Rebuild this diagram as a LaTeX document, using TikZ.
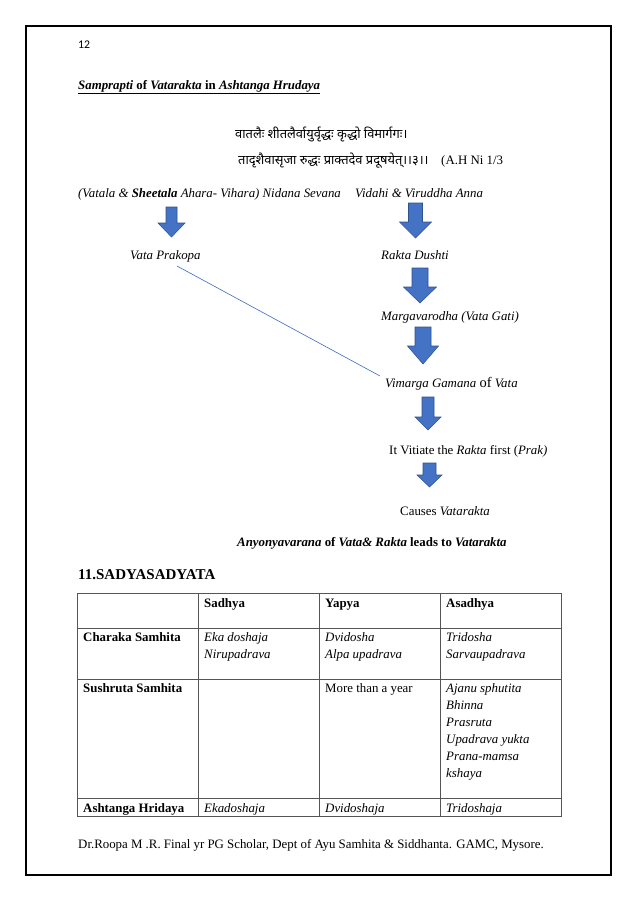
\documentclass[tikz,border=0pt]{standalone}
\usepackage{fontspec}
\setmainfont{Liberation Serif}
\newfontfamily\calib{Carlito}
\newfontfamily\deva[Script=Devanagari]{Noto Sans}
\definecolor{wblue}{HTML}{4472C4}
\definecolor{wblued}{HTML}{2F528F}
\definecolor{tgray}{HTML}{555555}
\newcommand{\blockarrow}[6]{%
  \filldraw[barrow] (#1-#5,#2) -- (#1+#5,#2) -- (#1+#5,#3) -- (#1+#6,#3) -- (#1,#4)
    -- (#1-#6,#3) -- (#1-#5,#3) -- cycle;}
\begin{document}
\begin{tikzpicture}[x=0.933pt,y=-0.933pt,
  txt/.style={anchor=base west,inner sep=0pt,font=\fontsize{12}{14}\selectfont},
  barrow/.style={fill=wblue,draw=wblued,line width=0.5pt},
  link/.style={draw=wblue,line width=0.6pt},
  tline/.style={draw=tgray,line width=0.9pt}]
\useasboundingbox (0,0) rectangle (638,902);
\fill[white] (0,0) rectangle (638,902);
% page border
\draw[line width=1.3pt] (26,26) rectangle (611,875);
\node[txt,font=\calib\fontsize{11}{13}\selectfont] (pg) at (78,49) {12};
\node[txt] (title) at (78,89) {\textbf{\underline{\textit{Samprapti} of \textit{Vatarakta} in \textit{Ashtanga Hrudaya}}}};
% shloka
\node[txt,font=\deva\fontsize{12}{15}\selectfont] (sh1) at (235,138) {वातलैः शीतलैर्वायुर्वृद्धः कृद्धो विमार्गगः।};
\node[txt,font=\deva\fontsize{12}{15}\selectfont] (sh2) at (238,164) {तादृशैवासृजा रुद्धः प्राक्तदेव प्रदूषयेत्।।३।।};
\node[txt] (ref) at (441,164) {(A.H Ni 1/3};
% flow
\node[txt] (n1) at (78,197) {\textit{(Vatala \& \textbf{Sheetala} Ahara- Vihara) Nidana Sevana}};
\node[txt] (n2) at (355,197) {\textit{Vidahi \& Viruddha Anna}};
\blockarrow{171.5}{207}{223}{237}{5.5}{13.5}
\blockarrow{415.5}{203}{222}{238}{7}{16}
\node[txt] (vp) at (130,259) {\textit{Vata Prakopa}};
\node[txt] (rd) at (381,259) {\textit{Rakta Dushti}};
\blockarrow{420}{268}{287}{303}{8}{16.5}
\node[txt] (mv) at (381,320) {\textit{Margavarodha (Vata Gati)}};
\blockarrow{423}{327}{346}{364}{8}{15.5}
\node[txt] (vg) at (385,387) {\textit{Vimarga Gamana} {\fontsize{13.5}{14}\selectfont of} \textit{Vata}};
\coordinate (l1) at (177,266);
\coordinate (l2) at (380,376);
\draw[link] (l1) -- (l2);
\blockarrow{428}{397}{417}{430}{6}{13}
\node[txt] (vr) at (389,454) {It Vitiate the \textit{Rakta} first (\textit{Prak)}};
\blockarrow{429.5}{463}{475}{487}{6.5}{12.5}
\node[txt] (cv) at (400,515) {Causes \textit{Vatarakta}};
\node[txt] (an) at (237,546) {\textbf{\textit{Anyonyavarana} of \textit{Vata\& Rakta} leads to \textit{Vatarakta}}};
\node[txt,font=\bfseries\fontsize{14}{16}\selectfont] (sec) at (78,579) {11.SADYASADYATA};
% table
\draw[tline] (77,593) rectangle (561,816);
\foreach \yy in {628,679,798} \draw[tline] (77,\yy) -- (561,\yy);
\foreach \xx in {198,319,440} \draw[tline] (\xx,593) -- (\xx,816);
\node[txt] (h1) at (204,607) {\textbf{Sadhya}};
\node[txt] (h2) at (325,607) {\textbf{Yapya}};
\node[txt] (h3) at (446,607) {\textbf{Asadhya}};
\node[txt] (r1) at (83,641) {\textbf{Charaka Samhita}};
\node[txt] (c11) at (204,641) {\textit{Eka doshaja}};
\node[txt] (c12) at (204,658) {\textit{Nirupadrava}};
\node[txt] (c21) at (325,641) {\textit{Dvidosha}};
\node[txt] (c22) at (325,658) {\textit{Alpa upadrava}};
\node[txt] (c31) at (446,641) {\textit{Tridosha}};
\node[txt] (c32) at (446,658) {\textit{Sarvaupadrava}};
\node[txt] (r2) at (83,692) {\textbf{Sushruta Samhita}};
\node[txt] (s2) at (325,692) {More than a year};
\node[txt] (s31) at (446,692) {\textit{Ajanu sphutita}};
\node[txt] (s32) at (446,709) {\textit{Bhinna}};
\node[txt] (s33) at (446,726) {\textit{Prasruta}};
\node[txt] (s34) at (446,743) {\textit{Upadrava yukta}};
\node[txt] (s35) at (446,760) {\textit{Prana-mamsa}};
\node[txt] (s36) at (446,777) {\textit{kshaya}};
\node[txt] (r3) at (83,812) {\textbf{Ashtanga Hridaya}};
\node[txt] (a1) at (204,812) {\textit{Ekadoshaja}};
\node[txt] (a2) at (325,812) {\textit{Dvidoshaja}};
\node[txt] (a3) at (446,812) {\textit{Tridoshaja}};
% footer
\node[txt] (ft) at (78,848) {Dr.Roopa M .R. Final yr PG Scholar, Dept of Ayu Samhita \& Siddhanta. GAMC, Mysore.};
\end{tikzpicture}
\end{document}
